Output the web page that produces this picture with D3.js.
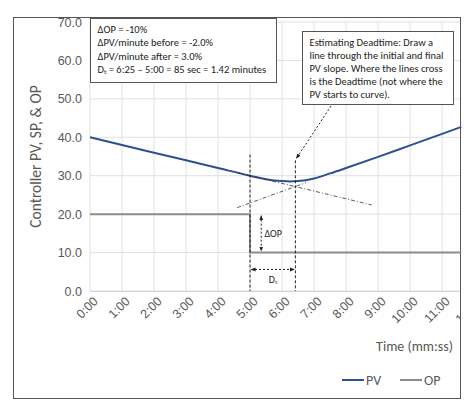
<!DOCTYPE html>
<html lang="en">
<head>
<meta charset="utf-8">
<script src="https://d3js.org/d3.v7.min.js"></script>
<style>
  body { margin: 0; background: white; font-family: Calibri, Carlito, "Open Sans", sans-serif; }
  .tick text { fill: #595959; font-size: 12.5px; }
  .box text { font-size: 10.5px; fill: #222; }
</style>
</head>
<body>
<div id="vis"></div>
<script>
// data (time in minutes)
const pvTime = [0, 1, 2, 3, 4, 5, 5.5, 6, 6.25, 6.5, 7, 7.5, 8, 9, 10, 11, 11.6];
const pvValue = [40, 38, 36, 34, 32, 30, 29.1, 28.6, 28.5, 28.6, 29.3, 30.6, 32, 34.9, 37.9, 40.9, 42.7];
const opTime = [0, 5, 5, 11.6];
const opValue = [20, 20, 10, 10];
const xTicks = ["0:00","1:00","2:00","3:00","4:00","5:00","6:00","7:00","8:00","9:00","10:00","11:00","12:00"];
const yTicks = [0, 10, 20, 30, 40, 50, 60, 70];
const slopeBefore = [[4.6, 30.8], [8.8, 22.4]];
const slopeAfter = [[4.6, 21.7], [6.75, 28.2]];
const deadStart = 5, deadEnd = 6 + 25 / 60;
const boxLines1 = ["ΔOP = -10%", "ΔPV/minute before = -2.0%", "ΔPV/minute after = 3.0%", "Dₜ = 6:25 – 5:00 = 85 sec = 1.42 minutes"];
const boxLines2 = ["Estimating Deadtime:  Draw a", "line through the initial and final", "PV slope.  Where the lines cross", "is the Deadtime (not where the", "PV starts to curve)."];

const W = 474, H = 406;
const x = d3.scaleLinear().domain([0, 11.56]).range([90, 460]);
const y = d3.scaleLinear().domain([0, 70]).range([291, 22]);

const svg = d3.select("#vis").append("svg").attr("width", W).attr("height", H);
svg.append("defs").append("marker").attr("id", "arr")
   .attr("viewBox", "0 0 10 10").attr("refX", 9).attr("refY", 5)
   .attr("markerWidth", 5).attr("markerHeight", 5).attr("orient", "auto-start-reverse")
   .append("path").attr("d", "M0,1 L10,5 L0,9 Z").attr("fill", "#222");

svg.append("rect").attr("x", 13.5).attr("y", 17.5).attr("width", 447).attr("height", 381)
   .attr("fill", "none").attr("stroke", "#555");

// grid
svg.append("g").selectAll("line").data(d3.range(0, 12)).join("line")
   .attr("x1", d => x(d)).attr("x2", d => x(d)).attr("y1", y(70)).attr("y2", y(0))
   .attr("stroke", "#e0e0e0");
svg.append("g").selectAll("line").data(yTicks).join("line")
   .attr("x1", x(0)).attr("x2", 460).attr("y1", d => y(d)).attr("y2", d => y(d))
   .attr("stroke", "#e0e0e0");

// axes
const yAx = svg.append("g").attr("transform", `translate(${x(0)},0)`)
   .call(d3.axisLeft(y).tickValues(yTicks).tickFormat(d3.format(".1f")).tickSize(0).tickPadding(8));
yAx.select(".domain").remove();
const xAx = svg.append("g").attr("transform", `translate(0,${y(0)})`)
   .call(d3.axisBottom(x).tickValues(d3.range(0, 13)).tickFormat(i => xTicks[i]).tickSize(0));
xAx.select(".domain").attr("stroke", "#d0d0d0");
xAx.selectAll(".tick text").attr("text-anchor", "end").attr("x", -2).attr("y", 6).attr("dy", "0.6em")
   .attr("transform", "rotate(-45)");
svg.append("clipPath").attr("id", "clipx").append("rect").attr("x", 0).attr("y", 0).attr("width", 461).attr("height", H);
xAx.attr("clip-path", "url(#clipx)");

svg.append("text").attr("transform", `translate(41,${y(35)}) rotate(-90)`).attr("text-anchor", "middle")
   .attr("fill", "#595959").style("font-size", "15.5px").text("Controller PV, SP, & OP");
svg.append("text").attr("x", 453).attr("y", 351).attr("text-anchor", "end")
   .attr("fill", "#595959").style("font-size", "14px").text("Time (mm:ss)");

// series
const line = d3.line().x(d => x(d[0])).y(d => y(d[1]));
svg.append("path").datum(opTime.map((t, i) => [t, opValue[i]])).attr("d", line)
   .attr("fill", "none").attr("stroke", "#8c8c8c").attr("stroke-width", 2);
svg.append("path").datum(pvTime.map((t, i) => [t, pvValue[i]])).attr("d", line.curve(d3.curveMonotoneX))
   .attr("fill", "none").attr("stroke", "#2f4f8f").attr("stroke-width", 2);
line.curve(d3.curveLinear);

// slope lines
[slopeBefore, slopeAfter].forEach(s => svg.append("path").datum(s).attr("d", line)
   .attr("fill", "none").attr("stroke", "#333").attr("stroke-width", 0.8).attr("stroke-dasharray", "4,2,1,2"));

// deadtime markers
svg.append("line").attr("x1", x(deadStart)).attr("x2", x(deadStart)).attr("y1", y(35.5)).attr("y2", y(0))
   .attr("stroke", "#222").attr("stroke-dasharray", "3,2");
svg.append("line").attr("x1", x(deadEnd)).attr("x2", x(deadEnd)).attr("y1", y(34)).attr("y2", y(0))
   .attr("stroke", "#222").attr("stroke-dasharray", "3,2");
svg.append("line").attr("x1", x(5.35)).attr("x2", x(5.35)).attr("y1", y(19.6)).attr("y2", y(10.4))
   .attr("stroke", "#222").attr("stroke-dasharray", "2,2")
   .attr("marker-start", "url(#arr)").attr("marker-end", "url(#arr)");
svg.append("text").attr("x", x(5.45)).attr("y", y(15) + 4).style("font-size", "10px").attr("fill", "#222").text("ΔOP");
svg.append("line").attr("x1", x(deadStart) + 1).attr("x2", x(deadEnd) - 1).attr("y1", y(5.6)).attr("y2", y(5.6))
   .attr("stroke", "#222").attr("stroke-dasharray", "2,2")
   .attr("marker-start", "url(#arr)").attr("marker-end", "url(#arr)");
svg.append("text").attr("x", x(5.72)).attr("y", y(2.2)).attr("text-anchor", "middle")
   .style("font-size", "10px").attr("fill", "#222").text("Dₜ");
svg.append("line").attr("x1", 331).attr("y1", 106).attr("x2", x(deadEnd) + 1).attr("y2", y(34.5))
   .attr("stroke", "#222").attr("stroke-dasharray", "2,2").attr("marker-end", "url(#arr)");

// text boxes
function box(x0, y0, w, h, lines, lh) {
  const g = svg.append("g").attr("class", "box");
  g.append("rect").attr("x", x0).attr("y", y0).attr("width", w).attr("height", h)
   .attr("fill", "white").attr("stroke", "#555");
  g.selectAll("text").data(lines).join("text").attr("x", x0 + 7).attr("y", (d, i) => y0 + 14 + i * lh).text(d => d);
}
box(90.5, 18.5, 186, 64, boxLines1, 13.5);
box(302.5, 31.5, 151, 73, boxLines2, 13.2);

// legend
const lg = svg.append("g").attr("transform", "translate(342,380)");
lg.append("line").attr("x1", 0).attr("x2", 22).attr("stroke", "#2f4f8f").attr("stroke-width", 2);
lg.append("text").attr("x", 24).attr("y", 5).attr("fill", "#595959").style("font-size", "14px").text("PV");
lg.append("line").attr("x1", 58).attr("x2", 80).attr("stroke", "#8c8c8c").attr("stroke-width", 2);
lg.append("text").attr("x", 82).attr("y", 5).attr("fill", "#595959").style("font-size", "14px").text("OP");
</script>
</body>
</html>
